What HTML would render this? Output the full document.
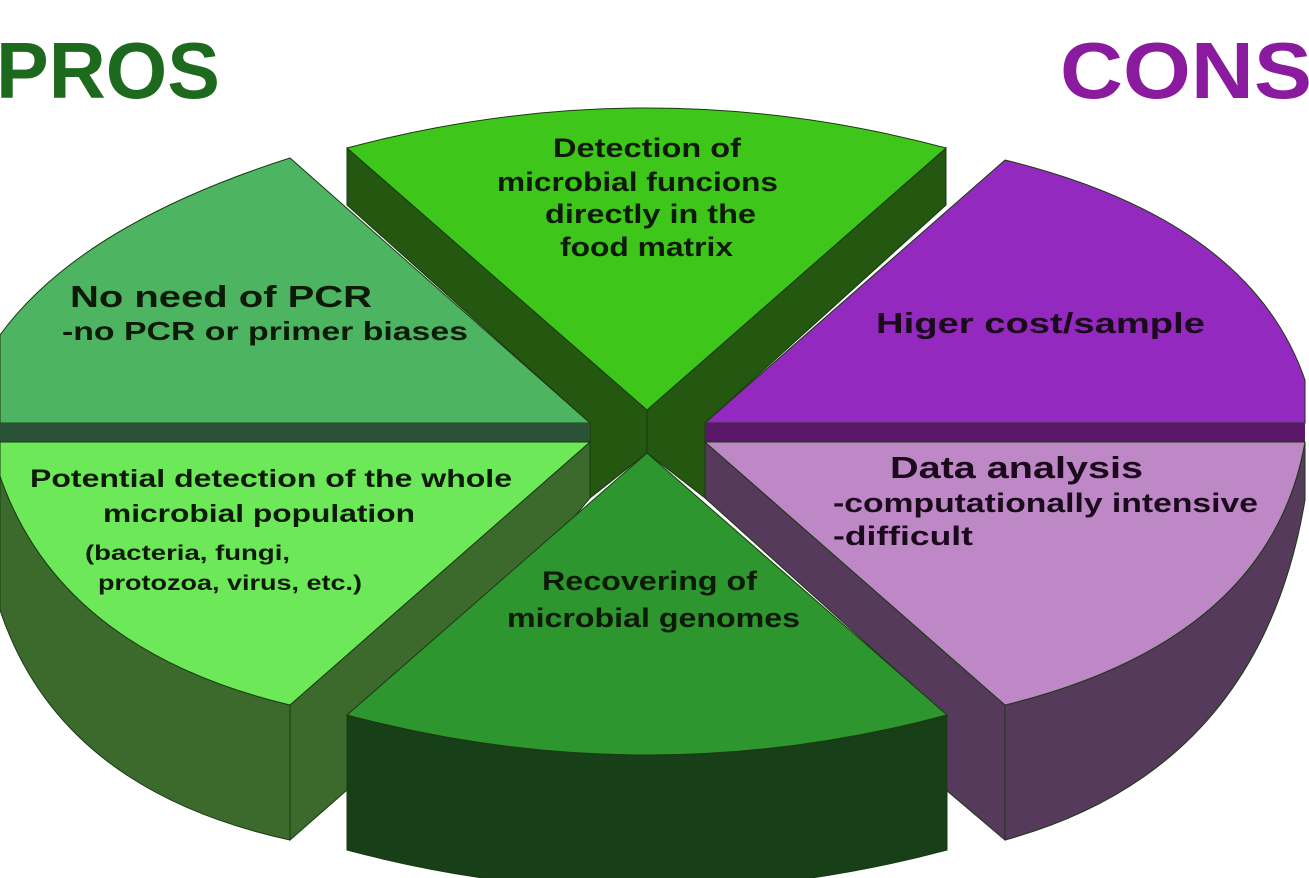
<!DOCTYPE html>
<html><head><meta charset="utf-8"><style>html,body{margin:0;padding:0;background:#fff}svg{display:block}</style></head>
<body>
<svg width="1309" height="878" viewBox="0 0 1309 878" xmlns="http://www.w3.org/2000/svg" font-family="Liberation Sans, Arial, sans-serif" font-weight="bold">
<rect width="1309" height="878" fill="#fff"/>
<text x="-4" y="98" font-size="80" fill="#1d6a1e" textLength="224" lengthAdjust="spacingAndGlyphs">PROS</text>
<text x="1060" y="98" font-size="80" fill="#8a1a9e" textLength="252" lengthAdjust="spacingAndGlyphs">CONS</text>
<g stroke="#1a3a12" stroke-width="1">
<path d="M0,476 Q60,650 290,705 L290,840 Q60,790 0,610 Z" fill="#3c6a2c"/>
<path d="M290,705 L590,442 L590,498 L347,790 L290,840 Z" fill="#3c6a2c"/>
<path d="M1305,442 L1305,500 Q1260,770 1005,840 L1005,705 Q1270,640 1305,442 Z" fill="#553a5c"/>
<path d="M705,442 L1005,705 L1005,840 L946,790 L946,715 L705,498 Z" fill="#553a5c"/>
<path d="M347,148 L647,410 L647,453 L590,498 L590,423 L347,205 Z" fill="#24570f"/>
<path d="M946,148 L946,205 L705,423 L705,498 L647,453 L647,410 Z" fill="#24570f"/>
<path d="M347,715 Q647,795 947,715 L947,850 Q647,930 347,850 Z" fill="#173f18"/>
<path d="M647,453 L947,715 Q647,795 347,715 Z" fill="#2e962e"/>
<path d="M347,148 Q647,68 946,148 L647,410 Z" fill="#3ec71a"/>
<path d="M0,423 L590,423 L290,158 Q80,225 0,335 Z" fill="#4db562"/>
<rect x="0" y="423" width="590" height="19" fill="#2a5236" stroke="none"/>
<path d="M0,442 L590,442 L290,705 Q60,650 0,476 Z" fill="#6de858"/>
<path d="M705,423 L1305,423 L1305,380 Q1250,220 1005,160 Z" fill="#9429bf"/>
<rect x="705" y="423" width="600" height="19" fill="#5a1868" stroke="none"/>
<path d="M705,442 L1305,442 Q1270,640 1005,705 Z" fill="#be88c6"/>
</g>
<g fill="#0d1a08" font-size="27" lengthAdjust="spacingAndGlyphs">
<text x="553" y="157" textLength="188" lengthAdjust="spacingAndGlyphs">Detection of</text>
<text x="497" y="191" textLength="281" lengthAdjust="spacingAndGlyphs">microbial funcions</text>
<text x="545" y="223" textLength="211" lengthAdjust="spacingAndGlyphs">directly in the</text>
<text x="560" y="256" textLength="173" lengthAdjust="spacingAndGlyphs">food matrix</text>
<text x="542" y="590" textLength="215" lengthAdjust="spacingAndGlyphs">Recovering of</text>
<text x="507" y="627" textLength="293" lengthAdjust="spacingAndGlyphs">microbial genomes</text>
</g>
<g fill="#0d1a08">
<text x="70" y="307" font-size="31" textLength="302" lengthAdjust="spacingAndGlyphs">No need of PCR</text>
<text x="62" y="340" font-size="26" textLength="406" lengthAdjust="spacingAndGlyphs">-no PCR or primer biases</text>
<text x="30" y="487" font-size="25" textLength="482" lengthAdjust="spacingAndGlyphs">Potential detection of the whole</text>
<text x="103" y="522" font-size="25" textLength="312" lengthAdjust="spacingAndGlyphs">microbial population</text>
<text x="85" y="560" font-size="21" textLength="205" lengthAdjust="spacingAndGlyphs">(bacteria, fungi,</text>
<text x="98" y="590" font-size="21" textLength="264" lengthAdjust="spacingAndGlyphs">protozoa, virus, etc.)</text>
</g>
<g fill="#1a0a1c">
<text x="876" y="333" font-size="29" textLength="329" lengthAdjust="spacingAndGlyphs">Higer cost/sample</text>
<text x="890" y="478" font-size="31" textLength="253" lengthAdjust="spacingAndGlyphs">Data analysis</text>
<text x="833" y="512" font-size="27" textLength="425" lengthAdjust="spacingAndGlyphs">-computationally intensive</text>
<text x="833" y="545" font-size="27" textLength="140" lengthAdjust="spacingAndGlyphs">-difficult</text>
</g>
</svg>
</body></html>
